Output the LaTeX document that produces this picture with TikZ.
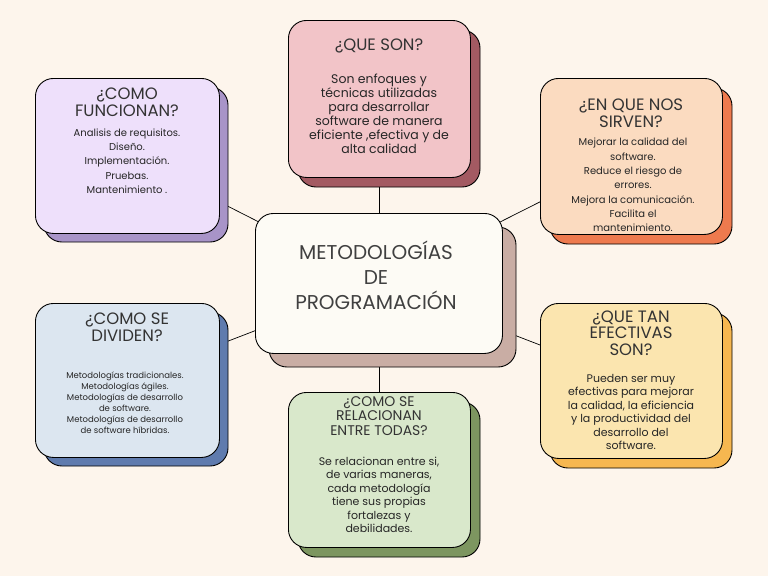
\documentclass[tikz,border=0pt]{standalone}
\usepackage{fontspec}
\setmainfont{Poppins}
\definecolor{bg}{HTML}{FDF5EC}
\definecolor{f1}{HTML}{F2C4C8}\definecolor{s1}{HTML}{A35A62}
\definecolor{f2}{HTML}{EEE0FB}\definecolor{s2}{HTML}{A894C8}
\definecolor{f3}{HTML}{FBDBC0}\definecolor{s3}{HTML}{EE7A4E}
\definecolor{f4}{HTML}{DCE6F0}\definecolor{s4}{HTML}{5F7BAE}
\definecolor{f5}{HTML}{FBE5AF}\definecolor{s5}{HTML}{F6B750}
\definecolor{f6}{HTML}{D9E8CB}\definecolor{s6}{HTML}{7D9660}
\definecolor{fc}{HTML}{FDFBF5}\definecolor{sc}{HTML}{C9ADA4}
\tikzset{
  card/.style={draw=black,line width=0.9pt,rounded corners=18pt,anchor=north west,inner sep=0pt},
  ttl/.style={font=\fontsize{16.5}{16.5}\selectfont,align=center,text=black!80},
  bdy/.style={align=center,text=black!85},
  link/.style={draw=black,line width=0.7pt}
}
\newcommand{\mycard}[8]{% name,x,y,w,h,fill,shadow,dx
  \fill[#7,draw=black,line width=0.9pt,rounded corners=18pt] (#2+#8,#3+#8) rectangle ++(#4,#5);
  \node[card,fill=#6,minimum width=#4pt,minimum height=#5pt] (#1) at (#2,#3) {};
}
\begin{document}
\begin{tikzpicture}[x=1pt,y=-1pt]
\fill[bg] (0,0) rectangle (768,576);
\useasboundingbox (0,0) rectangle (768,576);
\coordinate (cc) at (379,283);
\coordinate (c1) at (379,100);\coordinate (c2) at (127,155);\coordinate (c3) at (631,156);
\coordinate (c4) at (127,380);\coordinate (c5) at (631,380);\coordinate (c6) at (379,470);
\foreach \t in {c1,c2,c3,c4,c5,c6} \draw[link] (cc) -- (\t);
\mycard{b1}{288}{20}{182}{157}{f1}{s1}{10}
\mycard{b2}{35}{78}{184}{155}{f2}{s2}{9}
\mycard{b3}{540}{78}{182}{156}{f3}{s3}{10}
\mycard{b4}{35}{303}{184}{154}{f4}{s4}{9}
\mycard{b5}{540}{303}{182}{155}{f5}{s5}{10}
\mycard{b6}{288}{392}{182}{155}{f6}{s6}{10}
\mycard{c}{255}{213}{247}{140}{fc}{sc}{14}
\node[ttl,font=\fontsize{20}{25}\selectfont,text=black!75] at (376,275) {METODOLOGÍAS\\DE\\PROGRAMACIÓN};
\node[ttl] at (379,46) {¿QUE SON?};
\node[bdy,font=\fontsize{12.5}{14}\selectfont] at (379,114) {Son enfoques y\\técnicas utilizadas\\para desarrollar\\software de manera\\eficiente ,efectiva y de\\alta calidad};
\node[ttl] at (127,102) {¿COMO\\FUNCIONAN?};
\node[bdy,font=\fontsize{10}{14.3}\selectfont] at (127,161) {Analisis de requisitos.\\Diseño.\\Implementación.\\Pruebas.\\Mantenimiento .};
\node[ttl] at (631,113) {¿EN QUE NOS\\SIRVEN?};
\node[bdy,font=\fontsize{10}{14.3}\selectfont] at (633,185) {Mejorar la calidad del\\software.\\Reduce el riesgo de\\errores.\\Mejora la comunicación.\\Facilita el\\mantenimiento.};
\node[ttl] at (127,327) {¿COMO SE\\DIVIDEN?};
\node[bdy,font=\fontsize{8.5}{11}\selectfont] at (125,403) {Metodologías tradicionales.\\Metodologías ágiles.\\Metodologías de desarrollo\\de software.\\Metodologías de desarrollo\\de software híbridas.};
\node[ttl] at (631,333) {¿QUE TAN\\EFECTIVAS\\SON?};
\node[bdy,font=\fontsize{11}{13.5}\selectfont] at (631,412) {Pueden ser muy\\efectivas para mejorar\\la calidad, la eficiencia\\y la productividad del\\desarrollo del\\software.};
\node[ttl,font=\fontsize{14}{14.5}\selectfont] at (379,416) {¿COMO SE\\RELACIONAN\\ENTRE TODAS?};
\node[bdy,font=\fontsize{11}{13.5}\selectfont] at (379,495) {Se relacionan entre si,\\de varias maneras,\\cada metodología\\tiene sus propias\\fortalezas y\\debilidades.};
\end{tikzpicture}
\end{document}
